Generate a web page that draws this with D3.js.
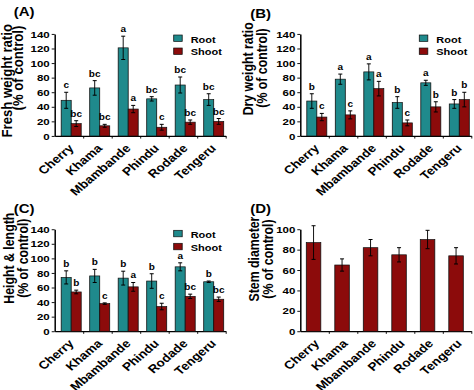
<!DOCTYPE html>
<html>
<head>
<meta charset="utf-8">
<script src="https://cdn.jsdelivr.net/npm/d3@7"></script>
<style>
  body { margin: 0; background: #fff; }
  svg { display: block; font-family: "Liberation Sans", Arial, sans-serif; font-weight: bold; }
</style>
</head>
<body>
<script>
const cultivars = ['Cherry', 'Khama', 'Mbambande', 'Phindu', 'Rodade', 'Tengeru'];

// (A) fresh weight ratio
const freshRoot = [49, 66, 121, 51, 70, 50];
const freshRootErr = [11, 10, 16, 3, 11, 8];
const freshShoot = [17, 14, 37, 12, 19, 20];
const freshShootErr = [4, 2, 5, 4, 3, 4];
const freshRootLetters = ['c', 'bc', 'a', 'bc', 'bc', 'bc'];
const freshShootLetters = ['bc', 'bc', 'a', 'c', 'bc', 'bc'];

// (B) dry weight ratio
const dryRoot = [48, 78, 88, 46, 73, 44];
const dryRootErr = [10, 7, 11, 8, 3.5, 6];
const dryShoot = [26, 29, 65, 18, 40, 50];
const dryShootErr = [5, 5.5, 10, 4, 7, 10];
const dryRootLetters = ['b', 'a', 'a', 'b', 'a', 'b'];
const dryShootLetters = ['c', 'c', 'a', 'c', 'b', 'b'];

// (C) height & length
const heightRoot = [74, 76, 73, 69, 88.5, 68];
const heightRootErr = [9, 9, 9.5, 10, 5.5, 1];
const heightShoot = [54, 38, 61, 34, 48, 44];
const heightShootErr = [2.5, 1, 6, 4.5, 3, 3];
const heightRootLetters = ['b', 'b', 'b', 'b', 'a', 'b'];
const heightShootLetters = ['b', 'c', 'a', 'c', 'bc', 'bc'];

// (D) stem diameter
const stem = [87, 65, 82, 75, 90, 74];
const stemErr = [16.5, 6, 8, 7, 9, 8];

const ticks140 = [0, 20, 40, 60, 80, 100, 120, 140];
const ticks100 = [0, 20, 40, 60, 80, 100];

const rootColor = '#1f8a8c';
const shootColor = '#8c0b0b';

// the picture is squashed vertically, so every panel is drawn in a scaled group
const K = 0.85;
const W = 171;
const H = 102 / K;

let svg = d3.select('body')
  .append('svg')
  .attr('width', 474)
  .attr('height', 390);

function drawPanel(opt) {
  let g = svg.append('g')
    .attr('transform', 'translate(' + opt.x + ',' + opt.y + ') scale(1,' + K + ')');

  //scales
  let xBand = d3.scaleBand().domain(cultivars).range([0, W]);
  let xLin = d3.scaleLinear().domain([0, cultivars.length]).range([0, W]);
  let yScale = d3.scaleLinear().domain([0, opt.max]).range([H, 0]);

  //y axis
  let yAxis = g.append('g')
    .call(d3.axisLeft(yScale).tickValues(opt.ticks).tickSize(3).tickSizeOuter(0).tickPadding(2));
  yAxis.selectAll('text').style('font-size', '11.5px').style('font-weight', 'bold').attr('fill', '#000');
  yAxis.select('.domain').attr('stroke-width', 1.5);

  //x axis, ticks between categories
  let xAxis = g.append('g')
    .attr('transform', 'translate(0,' + H + ')')
    .call(d3.axisBottom(xLin).tickValues(d3.range(1, cultivars.length + 1)).tickFormat('').tickSize(3).tickSizeOuter(0));
  xAxis.select('.domain').attr('stroke-width', 1.5);

  //x labels
  g.selectAll('.xlab')
    .data(cultivars)
    .enter()
    .append('text')
    .attr('class', 'xlab')
    .attr('text-anchor', 'end')
    .attr('transform', d => 'translate(' + (xBand(d) + xBand.bandwidth() / 2 + 5.5) + ',' + (H + 13 / K) + ') rotate(-45)')
    .style('font-size', '13.5px')
    .text(d => d);

  //y label
  opt.label.forEach((line, i) => {
    g.append('text')
      .attr('text-anchor', 'middle')
      .attr('transform', 'translate(' + opt.labelX[i] + ',' + opt.labelY[i] + ') rotate(-90)')
      .style('font-size', opt.labelSize + 'px')
      .text(line);
  });

  //panel letter
  g.append('text')
    .attr('x', opt.titleX)
    .attr('y', opt.titleY)
    .style('font-size', '15px')
    .text(opt.title);

  //bars
  opt.series.forEach(s => {
    let bars = g.append('g');
    cultivars.forEach((c, i) => {
      let x0 = xBand(c) + s.offset;
      let v = s.values[i];
      let e = s.err[i];
      bars.append('rect')
        .attr('x', x0)
        .attr('y', yScale(v))
        .attr('width', s.width)
        .attr('height', H - yScale(v))
        .attr('fill', s.color)
        .attr('stroke', '#111')
        .attr('stroke-width', 0.8);
      let cx = x0 + s.width / 2;
      bars.append('line')
        .attr('x1', cx).attr('x2', cx)
        .attr('y1', yScale(v - e)).attr('y2', yScale(v + e))
        .attr('stroke', '#000').attr('stroke-width', 1);
      [v - e, v + e].forEach(t => {
        bars.append('line')
          .attr('x1', cx - 2).attr('x2', cx + 2)
          .attr('y1', yScale(t)).attr('y2', yScale(t))
          .attr('stroke', '#000').attr('stroke-width', 1.2);
      });
      if (s.letters) {
        bars.append('text')
          .attr('x', cx)
          .attr('y', yScale(v + e) - 4 / K)
          .attr('text-anchor', 'middle')
          .style('font-size', '10px')
          .text(s.letters[i]);
      }
    });
  });

  //legend
  if (opt.legend) {
    let leg = g.append('g').attr('transform', 'translate(119,' + (1 / K) + ')');
    opt.series.forEach((s, i) => {
      leg.append('rect')
        .attr('x', 0)
        .attr('y', i * 13 / K)
        .attr('width', 8.5)
        .attr('height', 6.5 / K)
        .attr('fill', s.color)
        .attr('stroke', '#111')
        .attr('stroke-width', 0.8);
      leg.append('text')
        .attr('x', 17)
        .attr('y', i * 13 / K + 7.5 / K)
        .style('font-size', '11px')
        .text(s.name);
    });
  }
}

function pair(root, rootErr, rootLet, shoot, shootErr, shootLet) {
  return [
    {name: 'Root', values: root, err: rootErr, letters: rootLet, color: rootColor, offset: 6.5, width: 10},
    {name: 'Shoot', values: shoot, err: shootErr, letters: shootLet, color: shootColor, offset: 16.5, width: 10}
  ];
}

drawPanel({
  x: 54.7, y: 34, max: 140, ticks: ticks140, title: '(A)', titleX: -41, titleY: -21,
  label: ['Fresh weight ratio', '(% of control)'], labelX: [-42.5, -32], labelY: [55, 40], labelSize: 15.5,
  legend: true,
  series: pair(freshRoot, freshRootErr, freshRootLetters, freshShoot, freshShootErr, freshShootLetters)
});

drawPanel({
  x: 300.3, y: 34, max: 140, ticks: ticks140, title: '(B)', titleX: -50, titleY: -19,
  label: ['Dry weight ratio', '(% of control)'], labelX: [-47, -33.5], labelY: [41, 40], labelSize: 14.5,
  legend: true,
  series: pair(dryRoot, dryRootErr, dryRootLetters, dryShoot, dryShootErr, dryShootLetters)
});

drawPanel({
  x: 54.7, y: 229.3, max: 140, ticks: ticks140, title: '(C)', titleX: -41, titleY: -19,
  label: ['Height & length', '(% of control)'], labelX: [-40.5, -27], labelY: [34, 34], labelSize: 14.5,
  legend: true,
  series: pair(heightRoot, heightRootErr, heightRootLetters, heightShoot, heightShootErr, heightShootLetters)
});

drawPanel({
  x: 300.3, y: 229.3, max: 100, ticks: ticks100, title: '(D)', titleX: -50, titleY: -19,
  label: ['Stem diameter', '(% of control)'], labelX: [-41, -27.5], labelY: [35, 35], labelSize: 14.5,
  legend: false,
  series: [{name: 'Stem', values: stem, err: stemErr, letters: null, color: shootColor, offset: 6, width: 14.5}]
});
</script>
</body>
</html>
